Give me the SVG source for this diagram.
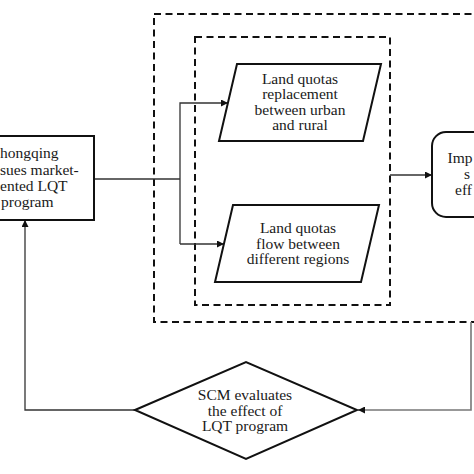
<svg xmlns="http://www.w3.org/2000/svg" width="474" height="474" viewBox="0 0 474 474">
<defs>
<marker id="arr" viewBox="0 0 10 10" refX="10" refY="5" markerWidth="7" markerHeight="7" markerUnits="userSpaceOnUse" orient="auto">
<path d="M0,0 L10,5 L0,10 z" fill="#111"/>
</marker>
<style>
.box{fill:#fff;stroke:#111;stroke-width:2}
.dash{fill:none;stroke:#111;stroke-width:2;stroke-dasharray:7 4.5}
.con{fill:none;stroke:#333;stroke-width:1.3}
.t{font-family:"Liberation Serif","Times New Roman",serif;font-size:15.5px;fill:#1a1a1a}
.m{text-anchor:middle}
</style>
</defs>
<rect width="474" height="474" fill="#fff"/>
<g id="outer-group"><rect class="dash" x="154" y="14" width="330" height="308"/></g>
<g id="inner-group"><rect class="dash" x="195" y="37" width="195" height="268"/></g>
<g id="connectors">
<polyline class="con" points="94,179 180,179"/>
<polyline class="con" points="180,244 180,103 228,103" marker-end="url(#arr)"/>
<polyline class="con" points="180,244 224,244" marker-end="url(#arr)"/>
<polyline class="con" points="390,175 432,175" marker-end="url(#arr)"/>
<polyline class="con" style="stroke:#777;stroke-width:1.6" points="471,322 471,410 358,410" marker-end="url(#arr)"/>
<polyline class="con" points="135,410 25,410 25,220" marker-end="url(#arr)"/>
</g>
<g id="chongqing">
<rect class="box" x="-40" y="136" width="134" height="84"/>
<text class="t" x="0" y="158">hongqing</text>
<text class="t" x="0" y="174.5">sues market-</text>
<text class="t" x="0" y="190.5">ented LQT</text>
<text class="t" x="1" y="206.5">program</text>
</g>
<g id="replacement">
<polygon class="box" points="237,64 381,64 363,141 219,141"/>
<text class="t m" x="300" y="83.5">Land quotas</text>
<text class="t m" x="300" y="99">replacement</text>
<text class="t m" x="300" y="114.5">between urban</text>
<text class="t m" x="300" y="130">and rural</text>
</g>
<g id="flow">
<polygon class="box" points="233,205 379,205 361,282 215,282"/>
<text class="t m" x="298" y="233">Land quotas</text>
<text class="t m" x="298" y="248.5">flow between</text>
<text class="t m" x="298" y="264">different regions</text>
</g>
<g id="improve">
<rect class="box" x="432" y="132" width="80" height="85" rx="14"/>
<text class="t" x="447.5" y="163">Imp</text>
<text class="t" x="464" y="179">s</text>
<text class="t" x="455" y="195">eff</text>
</g>
<g id="scm">
<polygon class="box" points="135,410 246,362 357,410 246,459"/>
<text class="t m" x="245" y="400">SCM evaluates</text>
<text class="t m" x="245" y="415.5">the effect of</text>
<text class="t m" x="245" y="431">LQT program</text>
</g>
</svg>
